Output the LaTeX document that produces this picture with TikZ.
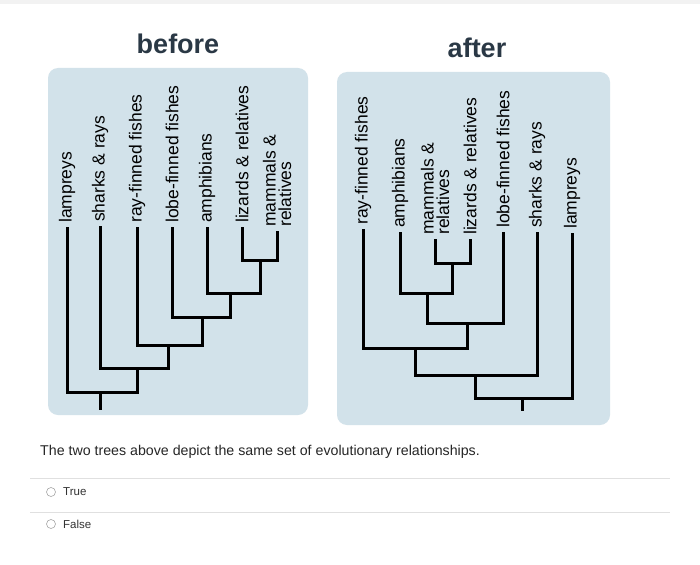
\documentclass[tikz,border=0pt]{standalone}
\usepackage{fontspec}
\setmainfont{Liberation Sans}
\begin{document}
\begin{tikzpicture}[x=1pt,y=-1pt,
  panel/.style={fill=panelblue,draw=none,rounded corners=10pt},
  br/.style={line width=3pt,line cap=rect},
  lab/.style={rotate=90,anchor=west,inner sep=0pt,align=left,font=\fontsize{17.5}{15.5}\selectfont,xshift=5pt},
  ttl/.style={font=\fontsize{27}{30}\selectfont\bfseries,text=titlecol},
  radio/.style={circle,draw=gray!70,line width=0.6pt,minimum size=9pt,inner sep=0pt}]
\definecolor{panelblue}{HTML}{D2E2EA}
\definecolor{titlecol}{HTML}{2A3845}
\useasboundingbox[fill=white] (0,0) rectangle (700,564);
\fill[white!95!black] (0,0) rectangle (700,4);
\node[panel,minimum width=260pt,minimum height=347pt] (pl) at (178,241.5) {};
\node[panel,minimum width=273pt,minimum height=353pt] (pr) at (473.5,248.5) {};
\node[ttl] (tb) at (178,44) {before};
\node[ttl] (ta) at (477,48) {after};
% left tree tips
\coordinate (la) at (67,228); \coordinate (lb) at (100,227); \coordinate (lc) at (137,228);
\coordinate (ld) at (172,228); \coordinate (le) at (207,228); \coordinate (lf) at (242,228);
\coordinate (lg) at (277,232);
\node[lab] at (la) {lampreys};
\node[lab] at (lb) {sharks \& rays};
\node[lab] at (lc) {ray-finned fishes};
\node[lab] at (ld) {lobe-finned fishes};
\node[lab] at (le) {amphibians};
\node[lab] at (lf) {lizards \& relatives};
\node[lab] at (lg) {mammals \&\\relatives};
\draw[br] (lf) |- (260,260) coordinate (j1) -| (lg);
\draw[br] (le) |- (230,293) -| (j1);
\draw[br] (ld) |- (202,317) -| (230,293);
\draw[br] (lc) |- (168,345) -| (202,317);
\draw[br] (lb) |- (137,368) -| (168,345);
\draw[br] (la) |- (100,392) -| (137,368);
\coordinate (lr) at (100,408);
\draw[br] (100,392) -- (lr);
% right tree tips
\coordinate (ra) at (363,230); \coordinate (rb) at (400,233); \coordinate (rc) at (435,240);
\coordinate (rd) at (470,240); \coordinate (re) at (503,233); \coordinate (rf) at (537,233);
\coordinate (rg) at (572,234);
\node[lab] at (ra) {ray-finned fishes};
\node[lab] at (rb) {amphibians};
\node[lab] at (rc) {mammals \&\\relatives};
\node[lab] at (rd) {lizards \& relatives};
\node[lab] at (re) {lobe-finned fishes};
\node[lab] at (rf) {sharks \& rays};
\node[lab] at (rg) {lampreys};
\draw[br] (rc) |- (452,263) coordinate (k1) -| (rd);
\draw[br] (rb) |- (427,293) -| (k1);
\draw[br] (427,293) |- (467,323) -| (re);
\draw[br] (ra) |- (415,348) -| (467,323);
\draw[br] (415,348) |- (475,375) -| (rf);
\draw[br] (475,375) |- (522,398) -| (rg);
\coordinate (rr) at (522,409);
\draw[br] (522,398) -- (rr);
% question
\node[anchor=west,inner sep=0pt,font=\fontsize{14.2}{16}\selectfont,text=black!85] (q) at (40,452) {The two trees above depict the same set of evolutionary relationships.};
\draw[black!12,line width=0.8pt] (30,478) -- (670,478);
\draw[black!12,line width=0.8pt] (30,512) -- (670,512);
\node[radio] (r1) at (51,492) {};
\node[anchor=west,inner sep=0pt,font=\fontsize{11.5}{13}\selectfont,text=black!80] at (63,492) {True};
\node[radio] (r2) at (51,524) {};
\node[anchor=west,inner sep=0pt,font=\fontsize{11.5}{13}\selectfont,text=black!80] at (63,524) {False};
\end{tikzpicture}
\end{document}
